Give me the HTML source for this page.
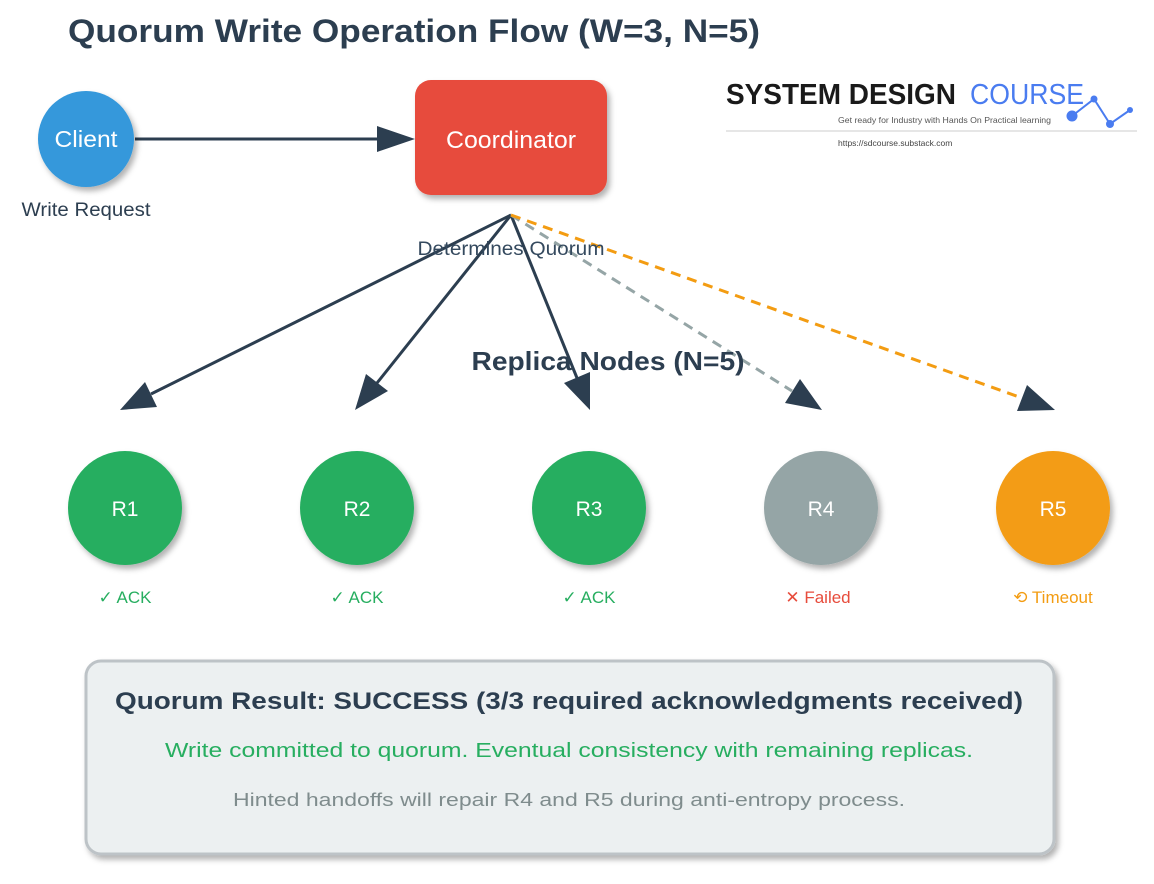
<!DOCTYPE html>
<html><head><meta charset="utf-8"><style>
html,body{margin:0;padding:0;background:#fff;}
svg{display:block;font-family:"Liberation Sans",sans-serif;}
</style></head><body>
<svg width="1154" height="884" viewBox="0 0 1154 884" xmlns="http://www.w3.org/2000/svg">
<defs>
<filter id="sh" x="-30%" y="-30%" width="160%" height="160%"><feDropShadow dx="3" dy="4" stdDeviation="3" flood-color="#000" flood-opacity="0.3"/></filter>
</defs>
<rect width="1154" height="884" fill="#fff"/>
<text x="68" y="42" font-size="32" font-weight="bold" fill="#2c3e50" textLength="692" lengthAdjust="spacingAndGlyphs">Quorum Write Operation Flow (W=3, N=5)</text>

<!-- logo -->
<text x="726" y="104" font-size="29" font-weight="bold" fill="#1a1a1a" textLength="230" lengthAdjust="spacingAndGlyphs">SYSTEM DESIGN</text>
<text x="970" y="104" font-size="29" fill="#4a7cf0" textLength="114" lengthAdjust="spacingAndGlyphs">COURSE</text>
<polyline points="1072,116 1094,99 1110,124 1130,110" fill="none" stroke="#4a7cf0" stroke-width="2"/>
<circle cx="1072" cy="116" r="5.5" fill="#4a7cf0"/><circle cx="1094" cy="99" r="3.5" fill="#4a7cf0"/><circle cx="1110" cy="124" r="4" fill="#4a7cf0"/><circle cx="1130" cy="110" r="3" fill="#4a7cf0"/>
<text x="838" y="123" font-size="8.5" fill="#555" textLength="213" lengthAdjust="spacingAndGlyphs">Get ready for Industry with Hands On Practical learning</text>
<line x1="726" y1="131" x2="1137" y2="131" stroke="#ccc" stroke-width="1"/>
<text x="838" y="146" font-size="8.5" fill="#444">https://sdcourse.substack.com</text>

<!-- client -->
<line x1="135" y1="139" x2="380" y2="139" stroke="#2c3e50" stroke-width="3"/>
<polygon points="415,139 377,126 377,152" fill="#2c3e50"/>
<ellipse cx="86" cy="139" rx="48" ry="48" fill="#3498db" filter="url(#sh)"/>
<text x="86" y="147" font-size="23" fill="#fff" text-anchor="middle" textLength="63" lengthAdjust="spacingAndGlyphs">Client</text>
<text x="86" y="216" font-size="19" fill="#2c3e50" text-anchor="middle" textLength="129" lengthAdjust="spacingAndGlyphs">Write Request</text>

<rect x="415" y="80" width="192" height="115" rx="16" fill="#e74c3c" filter="url(#sh)"/>
<text x="511" y="148" font-size="24" fill="#fff" text-anchor="middle" textLength="130" lengthAdjust="spacingAndGlyphs">Coordinator</text>

<!-- arrows -->
<g stroke-width="3" fill="none">
<line x1="511" y1="215" x2="151" y2="394" stroke="#2c3e50"/>
<line x1="511" y1="215" x2="377" y2="383" stroke="#2c3e50"/>
<line x1="511" y1="215" x2="577" y2="378" stroke="#2c3e50"/>
<line x1="511" y1="215" x2="792" y2="391" stroke="#95a5a6" stroke-dasharray="10,7"/>
<line x1="511" y1="215" x2="1022" y2="398" stroke="#f39c12" stroke-dasharray="10,7"/>
</g>
<g fill="#2c3e50">
<polygon points="120,410 145,382 157,407"/>
<polygon points="355,410 366,374 388,391"/>
<polygon points="590,410 564,383 590,372"/>
<polygon points="822,410 785,403 800,379"/>
<polygon points="1055,410 1017,411 1027,385"/>
</g>
<text x="511" y="255" font-size="19" fill="#34495e" text-anchor="middle" textLength="187" lengthAdjust="spacingAndGlyphs">Determines Quorum</text>
<text x="608" y="370" font-size="26" font-weight="bold" fill="#2c3e50" text-anchor="middle" textLength="273" lengthAdjust="spacingAndGlyphs">Replica Nodes (N=5)</text>

<!-- replicas -->
<g filter="url(#sh)">
<circle cx="125" cy="508" r="57" fill="#27ae60"/>
<circle cx="357" cy="508" r="57" fill="#27ae60"/>
<circle cx="589" cy="508" r="57" fill="#27ae60"/>
<circle cx="821" cy="508" r="57" fill="#95a5a6"/>
<circle cx="1053" cy="508" r="57" fill="#f39c12"/>
</g>
<g font-size="21" fill="#fff" text-anchor="middle">
<text x="125" y="516">R1</text><text x="357" y="516">R2</text><text x="589" y="516">R3</text><text x="821" y="516">R4</text><text x="1053" y="516">R5</text>
</g>
<g font-size="17" text-anchor="middle">
<text x="125" y="603" fill="#27ae60">✓ ACK</text>
<text x="357" y="603" fill="#27ae60">✓ ACK</text>
<text x="589" y="603" fill="#27ae60">✓ ACK</text>
<text x="818" y="603" fill="#e74c3c">✕ Failed</text>
<text x="1053" y="603" fill="#f39c12">⟲ Timeout</text>
</g>

<!-- result box -->
<rect x="86" y="661" width="968" height="193" rx="15" fill="#ecf0f1" stroke="#bdc3c7" stroke-width="3" filter="url(#sh)"/>
<text x="569" y="709" font-size="24" font-weight="bold" fill="#2c3e50" text-anchor="middle" textLength="908" lengthAdjust="spacingAndGlyphs">Quorum Result: SUCCESS (3/3 required acknowledgments received)</text>
<text x="569" y="757" font-size="20" fill="#27ae60" text-anchor="middle" textLength="808" lengthAdjust="spacingAndGlyphs">Write committed to quorum. Eventual consistency with remaining replicas.</text>
<text x="569" y="806" font-size="18" fill="#7f8c8d" text-anchor="middle" textLength="672" lengthAdjust="spacingAndGlyphs">Hinted handoffs will repair R4 and R5 during anti-entropy process.</text>
</svg>
</body></html>
